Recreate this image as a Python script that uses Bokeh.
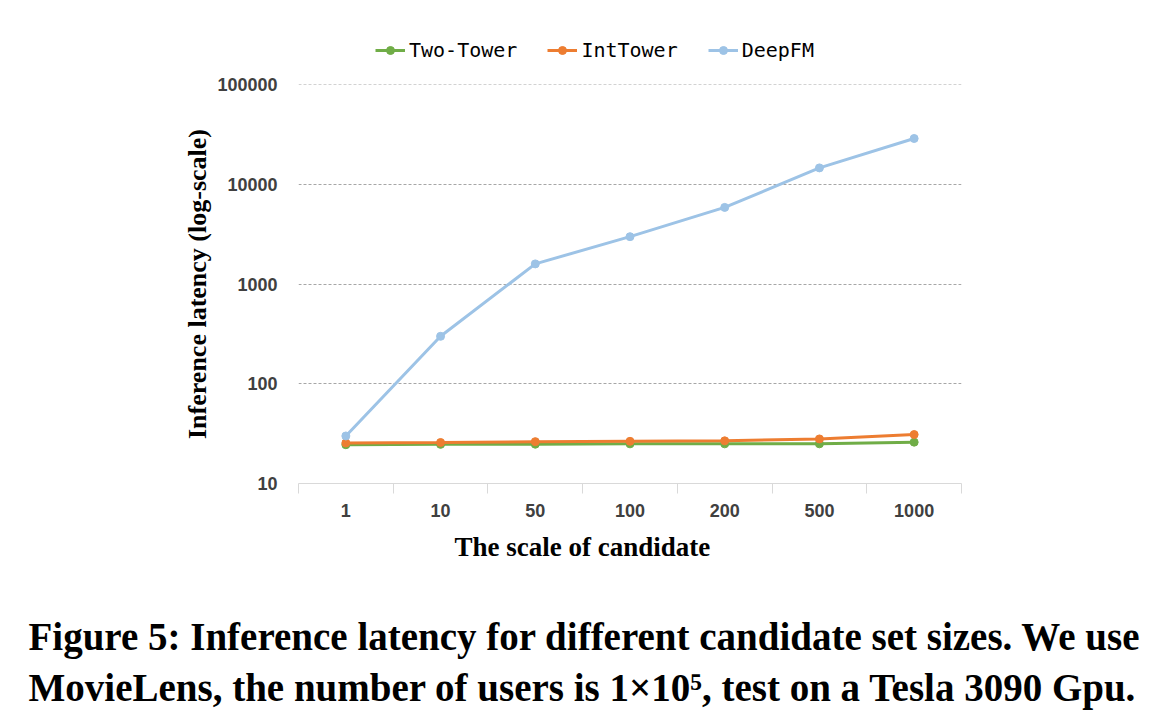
from bokeh.plotting import figure
from bokeh.layouts import column
from bokeh.models import (Range1d, FixedTicker, Legend, LegendItem, Title,
                          PrintfTickFormatter)
from bokeh.embed import file_html
from bokeh.resources import INLINE

# ---- data ----
categories = ["1", "10", "50", "100", "200", "500", "1000"]
two_tower = [24.5, 24.7, 24.8, 25.0, 25.0, 25.0, 26.0]
int_tower = [25.5, 25.8, 26.3, 26.5, 26.8, 28.0, 31.0]
deepfm = [30, 300, 1600, 3000, 5900, 14700, 29000]
y_ticks = [10, 100, 1000, 10000, 100000]
series_names = ["Two-Tower", "IntTower", "DeepFM"]
series_colors = ["#70AD47", "#ED7D31", "#9DC3E6"]

caption1 = "Figure 5: Inference latency for different candidate set sizes. We use"
caption2 = "MovieLens, the number of users is 1\u00d710\u2075, test on a Tesla 3090 Gpu."
x_title = "The scale of candidate"
y_title = "Inference latency (log-scale)"

n = len(categories)
xs = [i + 0.5 for i in range(n)]
series = [two_tower, int_tower, deepfm]

W = 1165
LEG_H = 70
MAIN_H = 513
CAP_H = 132


def bare(fig):
    fig.axis.visible = False
    fig.grid.visible = False
    fig.outline_line_color = None


p = figure(width=W, height=MAIN_H, y_axis_type="log",
           x_range=Range1d(0, n), y_range=Range1d(y_ticks[0], y_ticks[-1] * 1.01),
           output_backend="svg", toolbar_location=None,
           min_border_left=298, min_border_right=204,
           min_border_top=14, min_border_bottom=100)
p.outline_line_color = None
p.background_fill_color = "white"

# x axis: labels at centres, small ticks at category boundaries
xa = p.xaxis[0]
xa.ticker = FixedTicker(ticks=xs, minor_ticks=list(range(n + 1)))
xa.major_label_overrides = {x: c for x, c in zip(xs, categories)}
xa.major_tick_out = 0
xa.major_tick_in = 0
xa.minor_tick_out = 10
xa.minor_tick_in = 0
xa.minor_tick_line_color = "#D9D9D9"
xa.axis_line_color = "#D9D9D9"
xa.major_label_standoff = 10
xa.major_label_text_font = "Liberation Sans"
xa.major_label_text_font_style = "bold"
xa.major_label_text_font_size = "18px"
xa.major_label_text_color = "#404040"

ya = p.yaxis[0]
ya.ticker = FixedTicker(ticks=y_ticks, minor_ticks=[])
ya.formatter = PrintfTickFormatter(format="%d")
ya.axis_line_color = None
ya.major_tick_out = 0
ya.major_tick_in = 0
ya.minor_tick_out = 0
ya.minor_tick_in = 0
ya.major_label_standoff = 21
ya.major_label_text_font = "Liberation Sans"
ya.major_label_text_font_style = "bold"
ya.major_label_text_font_size = "18px"
ya.major_label_text_color = "#404040"
ya.axis_label = y_title
ya.axis_label_standoff = 2
ya.axis_label_text_font = "Liberation Serif"
ya.axis_label_text_font_style = "bold"
ya.axis_label_text_font_size = "26px"
ya.axis_label_text_color = "black"

p.xgrid.grid_line_color = None
p.ygrid.ticker = FixedTicker(ticks=y_ticks[1:])
p.ygrid.grid_line_color = "#A6A6A6"
p.ygrid.grid_line_dash = "3 2"
p.ygrid.grid_line_width = 1

for vals, col in zip(series, series_colors):
    p.line(xs, vals, line_color=col, line_width=3)
    p.scatter(xs, vals, size=8, fill_color=col, line_color=col)

p.add_layout(Title(text=x_title, align="left", offset=156, standoff=20,
                   text_font="Liberation Serif", text_font_style="bold",
                   text_font_size="27px", text_color="black"), "below")

# legend strip above the chart (same series, drawn outside its visible range)
lf = figure(width=W, height=LEG_H, x_range=Range1d(-20, -10), y_range=Range1d(-20, -10),
            output_backend="svg", toolbar_location=None, min_border=0)
bare(lf)
items = []
for name, vals, col in zip(series_names, series, series_colors):
    r1 = lf.line(xs, vals, line_color=col, line_width=3)
    r2 = lf.scatter(xs, vals, size=8, fill_color=col, line_color=col)
    items.append(LegendItem(label=name, renderers=[r1, r2]))
legend = Legend(items=items, orientation="horizontal", location=(77, 8),
                glyph_width=30, glyph_height=20, label_height=20,
                label_standoff=4, spacing=30, padding=0, margin=0,
                border_line_color=None, background_fill_alpha=0,
                label_text_font="DejaVu Sans Mono", label_text_font_size="20px",
                label_text_color="black")
lf.add_layout(legend, "center")

# caption strip below the chart
cf = figure(width=W, height=CAP_H, x_range=Range1d(0, 1), y_range=Range1d(0, 1),
            output_backend="svg", toolbar_location=None,
            min_border_top=126, min_border_bottom=0, min_border_left=0, min_border_right=0)
bare(cf)
cf.add_layout(Title(text=caption1 + "\n" + caption2, align="left", offset=-270,
                    standoff=0, vertical_align="bottom",
                    text_font="Liberation Serif", text_font_style="bold",
                    text_font_size="39px", text_line_height=1.2,
                    text_color="black"), "above")

layout = column(lf, p, cf, spacing=0)
open("out.html", "w").write(file_html(layout, INLINE))
